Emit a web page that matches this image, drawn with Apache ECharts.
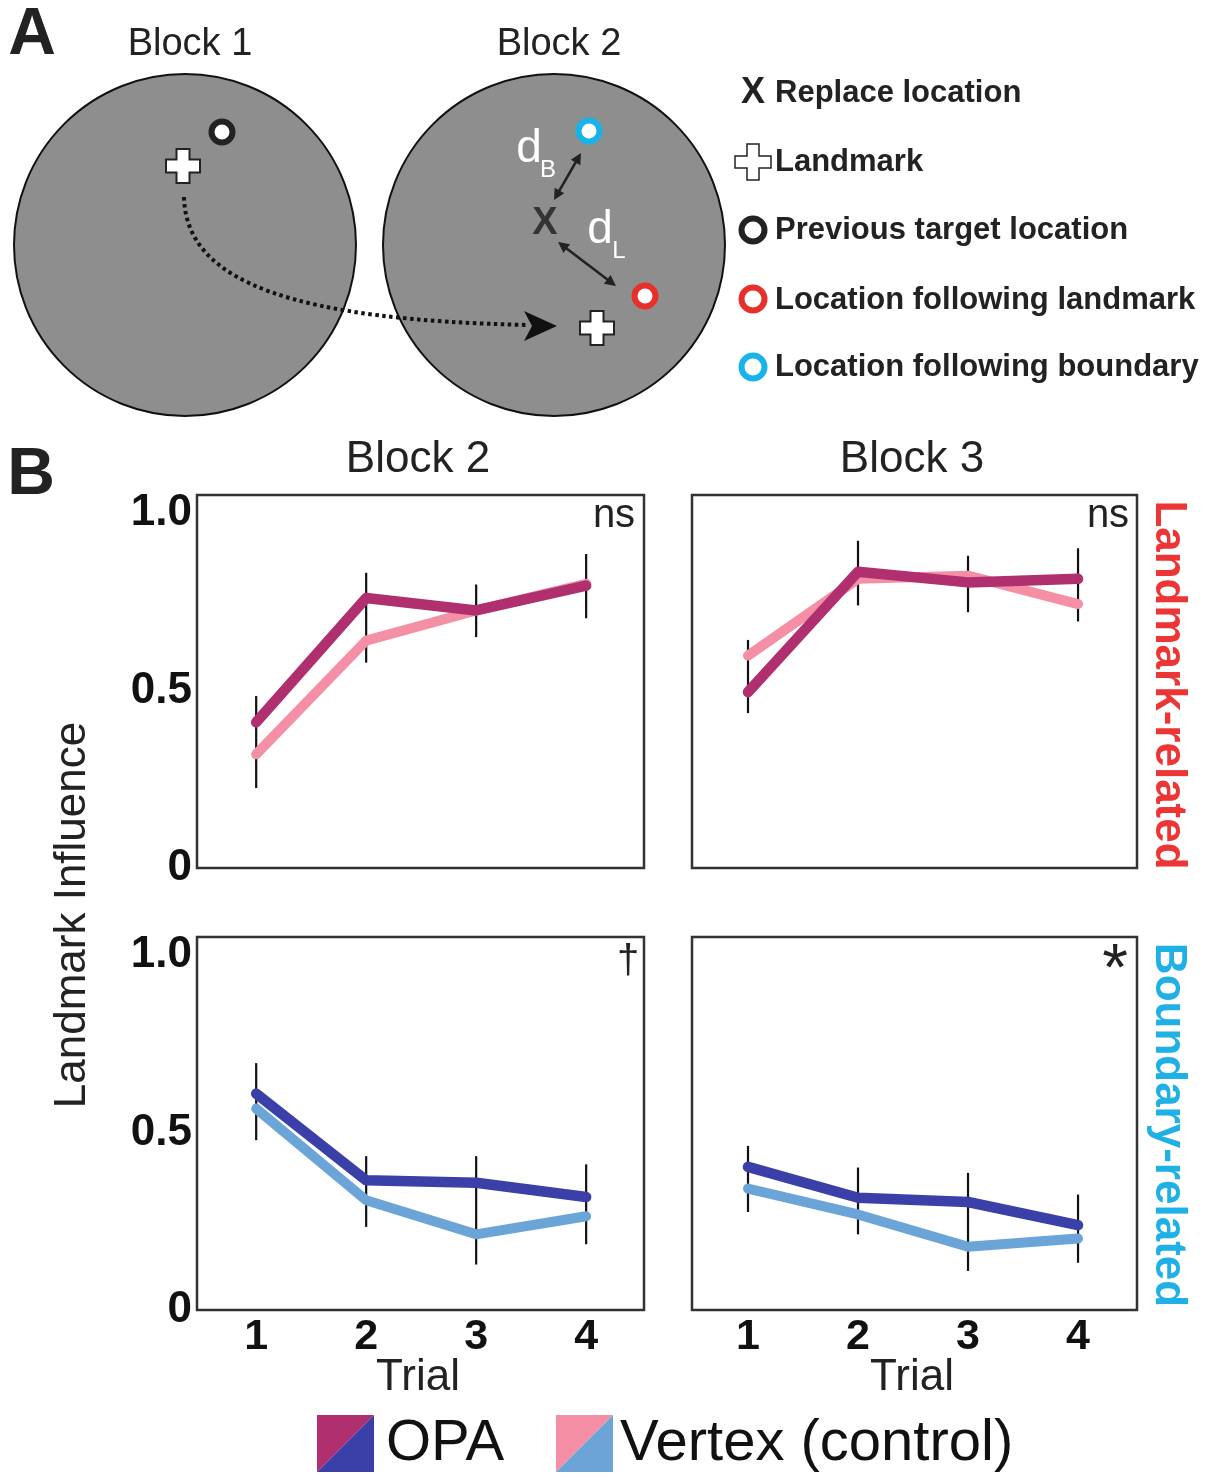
<!DOCTYPE html>
<html><head><meta charset="utf-8">
<script src="https://cdn.jsdelivr.net/npm/echarts@6/dist/echarts.min.js"></script>
<style>html,body{margin:0;padding:0;background:#fff}#c{width:1209px;height:1476px}</style>
</head><body><div id="c"></div>
<script>
// ---- data ----
const trials = [1, 2, 3, 4];
const xTickLabels = ['1', '2', '3', '4'];
const yTickLabels = { 0: '0', 0.5: '0.5', 1: '1.0' };
const blockTitles = ['Block 2', 'Block 3'];
const seriesNames = ['OPA', 'Vertex (control)'];

const lmB2_opa = [0.41, 0.76, 0.725, 0.795];
const lmB2_vertex = [0.32, 0.64, 0.725, 0.80];
const lmB2_errLow = [0.225, 0.578, 0.65, 0.703];
const lmB2_errHigh = [0.484, 0.831, 0.798, 0.884];

const lmB3_opa = [0.495, 0.834, 0.804, 0.814];
const lmB3_vertex = [0.598, 0.814, 0.823, 0.743];
const lmB3_errLow = [0.436, 0.739, 0.72, 0.694];
const lmB3_errHigh = [0.642, 0.921, 0.879, 0.90];

const bdB2_opa = [0.609, 0.365, 0.358, 0.318];
const bdB2_vertex = [0.567, 0.309, 0.213, 0.264];
const bdB2_errLow = [0.478, 0.234, 0.128, 0.185];
const bdB2_errHigh = [0.695, 0.433, 0.433, 0.41];

const bdB3_opa = [0.403, 0.316, 0.304, 0.239];
const bdB3_vertex = [0.342, 0.269, 0.178, 0.201];
const bdB3_errLow = [0.276, 0.213, 0.11, 0.133];
const bdB3_errHigh = [0.462, 0.401, 0.386, 0.325];

const sigMarks = ['ns', 'ns', '\u2020', '*'];

// ---- build ----
const FONT = "'Liberation Sans', Arial, sans-serif";
const C_OPA_LM = '#B0306F', C_VTX_LM = '#F48FA5';
const C_OPA_BD = '#3A40A8', C_VTX_BD = '#6BA5D8';

const panels = [
  { opa: lmB2_opa, vtx: lmB2_vertex, lo: lmB2_errLow, hi: lmB2_errHigh, cO: C_OPA_LM, cV: C_VTX_LM, left: 197, top: 495, w: 447, xmin: 0.462, xmax: 4.526, yLab: true, xLab: false },
  { opa: lmB3_opa, vtx: lmB3_vertex, lo: lmB3_errLow, hi: lmB3_errHigh, cO: C_OPA_LM, cV: C_VTX_LM, left: 692, top: 495, w: 445, xmin: 0.491, xmax: 4.536, yLab: false, xLab: false },
  { opa: bdB2_opa, vtx: bdB2_vertex, lo: bdB2_errLow, hi: bdB2_errHigh, cO: C_OPA_BD, cV: C_VTX_BD, left: 197, top: 937, w: 447, xmin: 0.462, xmax: 4.526, yLab: true, xLab: true },
  { opa: bdB3_opa, vtx: bdB3_vertex, lo: bdB3_errLow, hi: bdB3_errHigh, cO: C_OPA_BD, cV: C_VTX_BD, left: 692, top: 937, w: 445, xmin: 0.491, xmax: 4.536, yLab: false, xLab: true }
];

const grid = [], xAxis = [], yAxis = [], series = [];
panels.forEach((p, i) => {
  grid.push({ left: p.left, top: p.top, width: p.w, height: 373, show: true, borderColor: '#333', borderWidth: 2.5, backgroundColor: 'transparent' });
  xAxis.push({
    type: 'value', gridIndex: i, min: p.xmin, max: p.xmax,
    axisLine: { show: false }, axisTick: { show: false }, splitLine: { show: false },
    axisLabel: { show: p.xLab, customValues: trials, margin: 6, fontSize: 43, fontWeight: 'bold', color: '#111', fontFamily: FONT,
      formatter: v => { const k = trials.indexOf(Math.round(v)); return k >= 0 ? xTickLabels[k] : ''; } }
  });
  yAxis.push({
    type: 'value', gridIndex: i, min: 0, max: 1.05, interval: 0.5,
    axisLine: { show: false }, axisTick: { show: false }, splitLine: { show: false },
    axisLabel: { show: p.yLab, margin: 5, fontSize: 44, fontWeight: 'bold', color: '#111', fontFamily: FONT,
      formatter: v => { const key = Math.round(v * 100) / 100; return yTickLabels[key] !== undefined ? yTickLabels[key] : ''; } }
  });
  series.push({
    type: 'custom', xAxisIndex: i, yAxisIndex: i, z: 1,
    data: trials.map((t, k) => [t, p.lo[k], p.hi[k]]),
    encode: { x: 0, y: [1, 2] },
    renderItem: (params, api) => {
      const a = api.coord([api.value(0), api.value(1)]);
      const b = api.coord([api.value(0), api.value(2)]);
      return { type: 'line', shape: { x1: a[0], y1: a[1], x2: b[0], y2: b[1] }, style: { stroke: '#111', lineWidth: 2.2 } };
    }
  });
  series.push({
    type: 'line', name: seriesNames[1], xAxisIndex: i, yAxisIndex: i, z: 2,
    data: trials.map((t, k) => [t, p.vtx[k]]), symbol: 'none',
    lineStyle: { color: p.cV, width: 10, cap: 'round', join: 'round' }
  });
  series.push({
    type: 'line', name: seriesNames[0], xAxisIndex: i, yAxisIndex: i, z: 3,
    data: trials.map((t, k) => [t, p.opa[k]]), symbol: 'none',
    lineStyle: { color: p.cO, width: 10.5, cap: 'round', join: 'round' }
  });
});

// ---- decorative graphics ----
function crossPts(cx, cy, s, w) {
  return [[cx - w, cy - s], [cx + w, cy - s], [cx + w, cy - w], [cx + s, cy - w], [cx + s, cy + w], [cx + w, cy + w],
          [cx + w, cy + s], [cx - w, cy + s], [cx - w, cy + w], [cx - s, cy + w], [cx - s, cy - w], [cx - w, cy - w]];
}
function dblArrow(x1, y1, x2, y2) {
  const out = [];
  const dx = x2 - x1, dy = y2 - y1, L = Math.hypot(dx, dy), ux = dx / L, uy = dy / L, nx = -uy, ny = ux;
  const h = 11, hw = 5.5;
  out.push({ type: 'line', shape: { x1: x1 + ux * 5, y1: y1 + uy * 5, x2: x2 - ux * 5, y2: y2 - uy * 5 }, style: { stroke: '#222', lineWidth: 2.6 } });
  out.push({ type: 'polygon', shape: { points: [[x1, y1], [x1 + ux * h + nx * hw, y1 + uy * h + ny * hw], [x1 + ux * h - nx * hw, y1 + uy * h - ny * hw]] }, style: { fill: '#222' } });
  out.push({ type: 'polygon', shape: { points: [[x2, y2], [x2 - ux * h + nx * hw, y2 - uy * h + ny * hw], [x2 - ux * h - nx * hw, y2 - uy * h - ny * hw]] }, style: { fill: '#222' } });
  return out;
}
function txt(x, y, s, size, opts) {
  opts = opts || {};
  return { type: 'text', x: x, y: y, rotation: opts.rot || 0, z: 10,
    style: { text: s, fontSize: size, fontFamily: FONT, fontWeight: opts.bold ? 'bold' : 'normal', fill: opts.color || '#222',
      textAlign: opts.align || 'center', textVerticalAlign: 'middle' } };
}
function ring(cx, cy, color) {
  return { type: 'circle', shape: { cx: cx, cy: cy, r: 10.5 }, style: { fill: '#fff', stroke: color, lineWidth: 6 }, z: 5 };
}

const g = [];
// panel A
g.push(txt(32, 36, 'A', 66, { bold: true, color: '#222' }));
g.push(txt(190, 45, 'Block 1', 38));
g.push(txt(559, 45, 'Block 2', 38));
g.push({ type: 'circle', shape: { cx: 185, cy: 245, r: 171 }, style: { fill: '#8D8E8D', stroke: '#111', lineWidth: 2 } });
g.push({ type: 'circle', shape: { cx: 554, cy: 245, r: 171 }, style: { fill: '#8D8E8D', stroke: '#111', lineWidth: 2 } });
g.push(ring(222, 132, '#222'));
g.push({ type: 'polygon', shape: { points: crossPts(183, 166, 17, 6.5) }, style: { fill: '#fff', stroke: '#222', lineWidth: 2 }, z: 5 });
g.push({ type: 'bezierCurve', shape: { x1: 184, y1: 197, cpx1: 186, cpy1: 285, cpx2: 300, cpy2: 320, x2: 528, y2: 325 }, style: { stroke: '#111', lineWidth: 4, lineDash: [3.5, 3.5], fill: null }, z: 4 });
g.push({ type: 'polygon', shape: { points: [[557, 326], [524, 311], [532, 326], [524, 341]] }, style: { fill: '#111' }, z: 4 });
g.push(ring(589, 131, '#18B3EA'));
g.push(ring(645, 296, '#E8302A'));
g.push({ type: 'polygon', shape: { points: crossPts(597, 328, 17, 6.5) }, style: { fill: '#fff', stroke: '#222', lineWidth: 2 }, z: 5 });
dblArrow(581, 153, 554, 200).forEach(e => g.push(e));
dblArrow(558, 242, 616, 286).forEach(e => g.push(e));
g.push(txt(529, 149, 'd', 46, { color: '#fff' }));
g.push(txt(548, 170, 'B', 24, { color: '#fff' }));
g.push(txt(600, 230, 'd', 46, { color: '#fff' }));
g.push(txt(619, 251, 'L', 24, { color: '#fff' }));
g.push(txt(545, 224, 'X', 38, { bold: true, color: '#333' }));
// panel A legend
g.push(txt(753, 93, 'X', 36, { bold: true, color: '#222' }));
g.push({ type: 'polygon', shape: { points: crossPts(753, 162, 18, 6) }, style: { fill: '#fff', stroke: '#222', lineWidth: 1.5 } });
g.push({ type: 'circle', shape: { cx: 753, cy: 230, r: 11.5 }, style: { fill: '#fff', stroke: '#222', lineWidth: 6 } });
g.push({ type: 'circle', shape: { cx: 753, cy: 299, r: 11.5 }, style: { fill: '#fff', stroke: '#E8302A', lineWidth: 6 } });
g.push({ type: 'circle', shape: { cx: 753, cy: 367, r: 11.5 }, style: { fill: '#fff', stroke: '#18B3EA', lineWidth: 6 } });
const legA = ['Replace location', 'Landmark', 'Previous target location', 'Location following landmark', 'Location following boundary'];
const legAy = [93, 162, 230, 300, 367];
legA.forEach((s, k) => g.push(txt(775, legAy[k], s, 31, { bold: true, align: 'left', color: '#222' })));

// panel B
g.push(txt(31, 476, 'B', 66, { bold: true, color: '#222' }));
g.push(txt(418, 460, blockTitles[0], 44));
g.push(txt(912, 460, blockTitles[1], 44));
g.push(txt(418, 1378, 'Trial', 44));
g.push(txt(912, 1378, 'Trial', 44));
g.push(txt(73, 915, 'Landmark Influence', 44, { rot: Math.PI / 2 }));
g.push(txt(1168, 685, 'Landmark-related', 44, { rot: -Math.PI / 2, bold: true, color: '#EE3535' }));
g.push(txt(1168, 1125, 'Boundary-related', 44, { rot: -Math.PI / 2, bold: true, color: '#1FB0E6' }));
g.push(txt(614, 516, sigMarks[0], 40, { color: '#222' }));
g.push(txt(1108, 516, sigMarks[1], 40, { color: '#222' }));
g.push(txt(628, 962, sigMarks[2], 40, { color: '#222' }));
g.push(txt(1115, 972, sigMarks[3], 66, { color: '#222' }));

// bottom legend
function splitSquare(x, y, s, c1, c2) {
  return [
    { type: 'polygon', shape: { points: [[x, y], [x + s, y], [x, y + s]] }, style: { fill: c1 } },
    { type: 'polygon', shape: { points: [[x + s, y], [x + s, y + s], [x, y + s]] }, style: { fill: c2 } }
  ];
}
splitSquare(317, 1415, 57, C_OPA_LM, C_OPA_BD).forEach(e => g.push(e));
splitSquare(556, 1415, 57, C_VTX_LM, C_VTX_BD).forEach(e => g.push(e));
g.push(txt(386, 1444, seriesNames[0], 58, { align: 'left', color: '#111' }));
g.push(txt(620, 1444, seriesNames[1], 58, { align: 'left', color: '#111' }));

const chart = echarts.init(document.getElementById('c'), null, { renderer: 'canvas' });
chart.setOption({ animation: false, backgroundColor: '#fff', grid, xAxis, yAxis, series, graphic: g });
</script>
</body></html>
